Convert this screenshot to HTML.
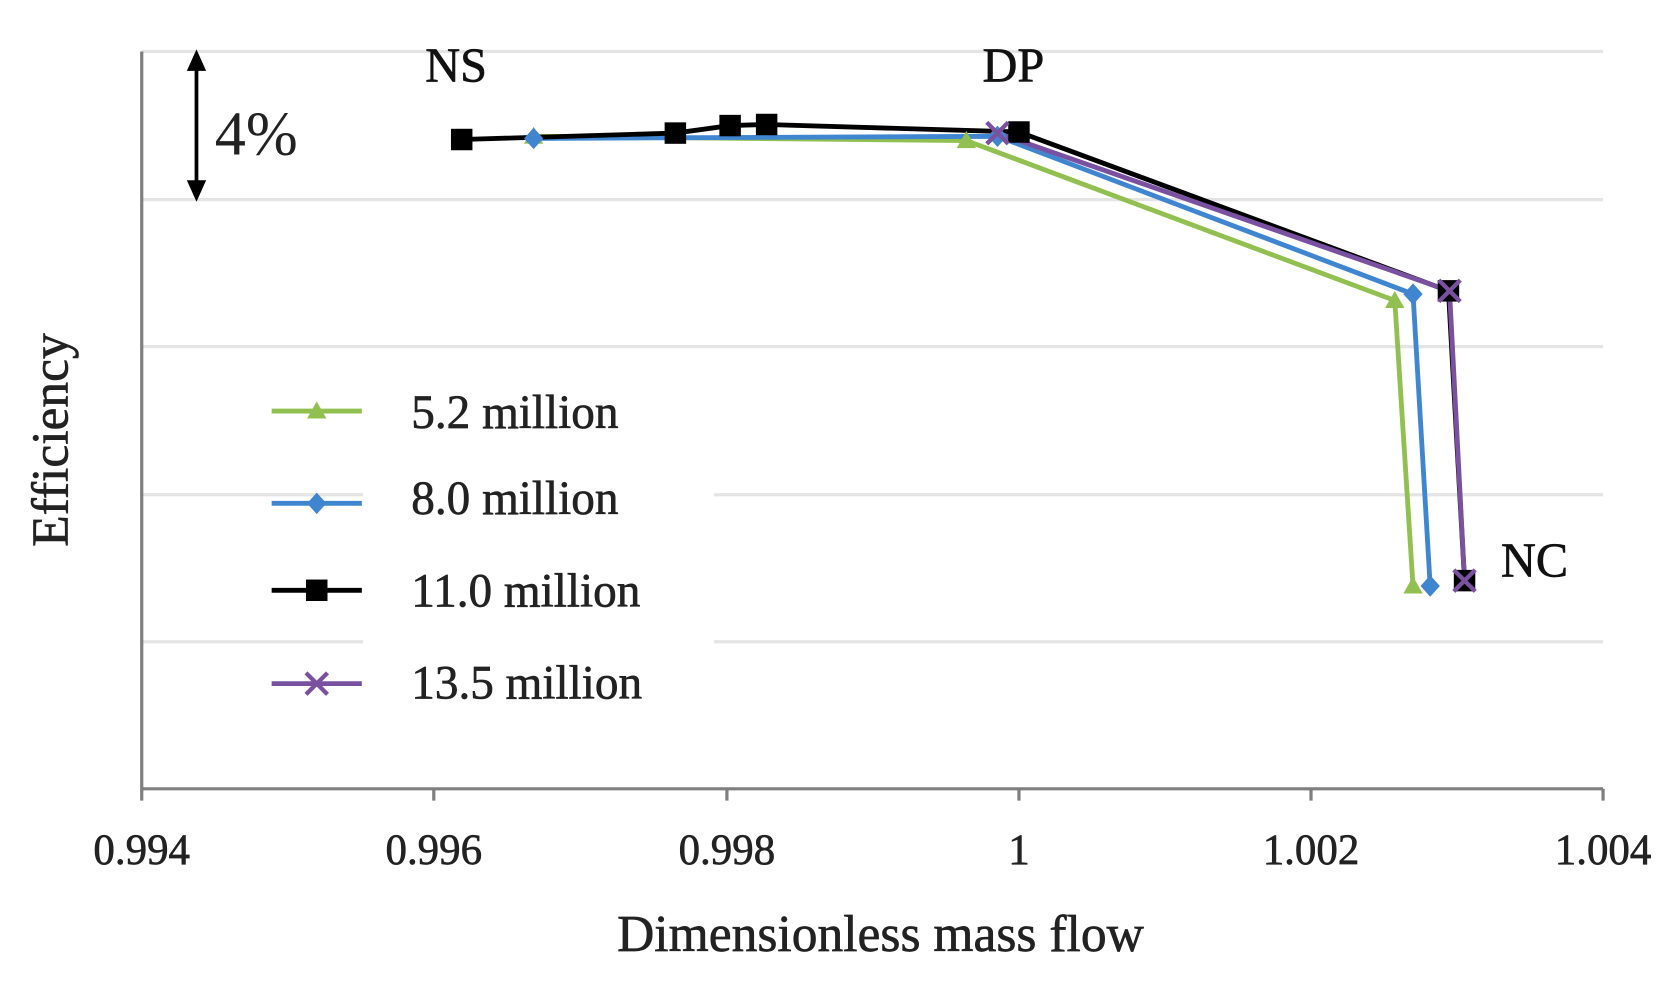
<!DOCTYPE html>
<html><head><style>html,body{margin:0;padding:0;background:#fff;}svg{display:block}</style></head>
<body>
<svg width="1675" height="982" viewBox="0 0 1560 915" preserveAspectRatio="none" xmlns="http://www.w3.org/2000/svg" font-family="Liberation Serif, serif">
<rect width="1560" height="915" fill="#fff"/>
<g stroke="#e4e4e4" stroke-width="3">
<line x1="132" y1="48" x2="1493" y2="48"/>
<line x1="132" y1="186" x2="1493" y2="186"/>
<line x1="132" y1="323" x2="1493" y2="323"/>
<line x1="132" y1="461" x2="338" y2="461"/><line x1="665" y1="461" x2="1493" y2="461"/>
<line x1="132" y1="598" x2="338" y2="598"/><line x1="665" y1="598" x2="1493" y2="598"/>
</g>
<g stroke="#7f7f7f" stroke-width="3">
<line x1="132" y1="48" x2="132" y2="735"/>
<line x1="132" y1="735" x2="1493" y2="735"/>
<line x1="132" y1="735" x2="132" y2="746"/><line x1="404" y1="735" x2="404" y2="746"/><line x1="677" y1="735" x2="677" y2="746"/><line x1="949" y1="735" x2="949" y2="746"/><line x1="1221" y1="735" x2="1221" y2="746"/><line x1="1493" y1="735" x2="1493" y2="746"/>
</g>
<g font-size="40" text-anchor="middle" fill="#222" stroke="#222" stroke-width="0.6">
<text x="132" y="805">0.994</text><text x="404" y="805">0.996</text><text x="677" y="805">0.998</text><text x="949" y="805">1</text><text x="1221" y="805">1.002</text><text x="1493" y="805">1.004</text>
</g>
<text x="820" y="886" font-size="48" text-anchor="middle" fill="#222" stroke="#222" stroke-width="0.6">Dimensionless mass flow</text>
<text transform="translate(63,410) rotate(-90)" font-size="48" text-anchor="middle" fill="#222" stroke="#222" stroke-width="0.6">Efficiency</text>
<g stroke="#000" stroke-width="3.5"><line x1="183" y1="56" x2="183" y2="178"/></g>
<polygon points="183,46 174,66 192,66" fill="#000"/><polygon points="183,188 174,168 192,168" fill="#000"/>
<text x="200" y="144" font-size="58" fill="#222">4%</text>
<g font-size="45" fill="#111" stroke="#111" stroke-width="0.6">
<text x="396" y="76">NS</text><text x="915" y="76">DP</text><text x="1398" y="537">NC</text>
</g>
<g fill="none" stroke-width="4.5" stroke-linejoin="round">
<polyline stroke="#92c050" points="497,127 900,131 1299,280 1316,546"/>
<polyline stroke="#3f85d0" points="497,129 929,127 1316,274 1332,546"/>
<polyline stroke="#000" points="430,130 629,124 680,117 714,116 949,123 1349,271 1364,541"/>
<polyline stroke="#7a51a0" points="929,124 1350,271 1364,541"/>
</g>
<g fill="#92c050"><polygon points="497,118 488,134 506,134"/><polygon points="900,122 891,138 909,138"/><polygon points="1299,271 1290,287 1308,287"/><polygon points="1316,537 1307,553 1325,553"/></g>
<g fill="#3f85d0"><polygon points="497,119 506,129 497,139 488,129"/><polygon points="929,117 938,127 929,137 920,127"/><polygon points="1316,264 1325,274 1316,284 1307,274"/><polygon points="1332,536 1341,546 1332,556 1323,546"/></g>
<g fill="#000"><rect x="420" y="120" width="20" height="20"/><rect x="619" y="114" width="20" height="20"/><rect x="670" y="107" width="20" height="20"/><rect x="704" y="106" width="20" height="20"/><rect x="939" y="113" width="20" height="20"/><rect x="1339" y="261" width="20" height="20"/><rect x="1354" y="531" width="20" height="20"/></g>
<g stroke="#7a51a0" stroke-width="4"><path d="M919,114 l20,20 M939,114 l-20,20"/><path d="M1340,261 l20,20 M1360,261 l-20,20"/><path d="M1354,531 l20,20 M1374,531 l-20,20"/></g>
<g stroke-width="4.5">
<line x1="253" y1="383" x2="337" y2="383" stroke="#92c050"/>
<line x1="253" y1="469" x2="337" y2="469" stroke="#3f85d0"/>
<line x1="253" y1="550" x2="337" y2="550" stroke="#000"/>
<line x1="253" y1="637" x2="337" y2="637" stroke="#7a51a0"/>
</g>
<polygon points="295,374 286,390 304,390" fill="#92c050"/>
<polygon points="295,459 304,469 295,479 286,469" fill="#3f85d0"/>
<rect x="285" y="540" width="20" height="20" fill="#000"/>
<path d="M285,627 l20,20 M305,627 l-20,20" stroke="#7a51a0" stroke-width="4"/>
<g font-size="44" fill="#222" stroke="#222" stroke-width="0.6">
<text x="383" y="399">5.2 million</text>
<text x="383" y="479">8.0 million</text>
<text x="383" y="565">11.0 million</text>
<text x="383" y="651">13.5 million</text>
</g>
</svg>
</body></html>
